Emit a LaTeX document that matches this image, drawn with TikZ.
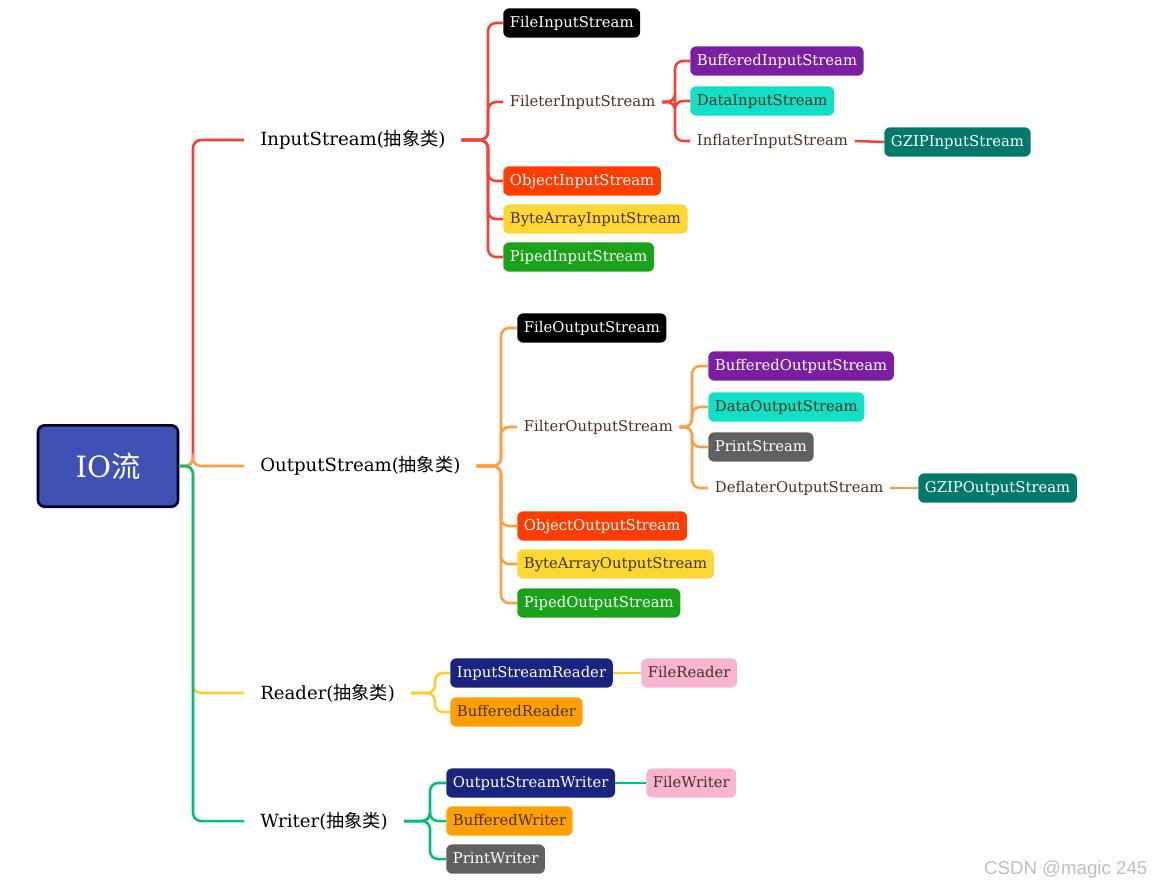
\documentclass[tikz,border=0pt]{standalone}
\usepackage{fontspec}
\setmainfont{DejaVu Serif}
\newfontfamily\cjk{Noto Sans CJK SC}
\newfontfamily\wm{Liberation Sans}
\begin{document}
\begin{tikzpicture}[x=0.75pt,y=-0.75pt,
  box/.style={anchor=west,rounded corners=4.5pt,inner xsep=5pt,minimum height=22pt,text height=8pt,text depth=1.5pt,font=\fontsize{11.1}{12}\selectfont,text=white},
  txt/.style={anchor=west,inner xsep=5pt,text height=8pt,text depth=1.5pt,font=\fontsize{11.1}{12}\selectfont,text=brn},
  lab/.style={anchor=west,inner xsep=12pt,font=\fontsize{13.6}{15}\selectfont},
  ln/.style={line width=1.9pt,rounded corners=6pt}]
\definecolor{rd}{HTML}{F44336}\definecolor{og}{HTML}{FF9E45}\definecolor{yl}{HTML}{F5D030}\definecolor{gn}{HTML}{00BF7A}
\definecolor{brn}{HTML}{4A3020}\definecolor{croot}{HTML}{3F51B5}
\definecolor{cpur}{HTML}{7B1FA2}\definecolor{ccy}{HTML}{10E0C6}\definecolor{cteal}{HTML}{00796B}
\definecolor{cobj}{HTML}{FF3D00}\definecolor{cyel}{HTML}{FDD835}\definecolor{cgrn}{HTML}{1AA21A}
\definecolor{cgry}{HTML}{616161}\definecolor{cnav}{HTML}{1A237E}\definecolor{cpink}{HTML}{F8B4D0}\definecolor{corg}{HTML}{FFA000}
\useasboundingbox (0,0) rectangle (1156,890);
\node[draw=black!85!blue,line width=2pt,fill=croot,rounded corners=5pt,minimum width=105pt,minimum height=61pt,text=white,font=\fontsize{22}{24}\selectfont] (io) at (108,466) {IO{\cjk 流}};
% level 1
\node[lab] (is) at (244,140) {InputStream({\cjk 抽象类})};
\node[lab] (os) at (244,466) {OutputStream({\cjk 抽象类})};
\node[lab] (rd) at (244,693) {Reader({\cjk 抽象类})};
\node[lab] (wr) at (244,821) {Writer({\cjk 抽象类})};
\foreach \n/\c in {is/rd,os/og,rd/yl,wr/gn}{\draw[ln,\c] (io.east) -- (193,466) |- (\n.west);}
% InputStream
\node[box,fill=black] (fis) at (503,23) {FileInputStream};
\node[txt] (fil) at (503,102) {FileterInputStream};
\node[box,fill=cobj] (ois) at (503,181) {ObjectInputStream};
\node[box,fill=cyel,text=brn] (bais) at (503,219) {ByteArrayInputStream};
\node[box,fill=cgrn] (pis) at (503,257) {PipedInputStream};
\foreach \n in {fis,fil,ois,bais,pis}{\draw[ln,rd] (is.east) -- (488,140) |- (\n.west);}
\node[box,fill=cpur] (bis) at (690,61) {BufferedInputStream};
\node[box,fill=ccy,text=brn] (dis) at (690,101) {DataInputStream};
\node[txt] (inf) at (690,141) {InflaterInputStream};
\foreach \n in {bis,dis,inf}{\draw[ln,rd] (fil.east) -- (675,102) |- (\n.west);}
\node[box,fill=cteal] (gis) at (884,142) {GZIPInputStream};
\draw[ln,rd] (inf.east) -- (gis.west);
% OutputStream
\node[box,fill=black] (fos) at (517,328) {FileOutputStream};
\node[txt] (flo) at (517,427) {FilterOutputStream};
\node[box,fill=cobj] (oos) at (517,526) {ObjectOutputStream};
\node[box,fill=cyel,text=brn] (baos) at (517,564) {ByteArrayOutputStream};
\node[box,fill=cgrn] (pos) at (517,603) {PipedOutputStream};
\foreach \n in {fos,flo,oos,baos,pos}{\draw[ln,og] (os.east) -- (501,466) |- (\n.west);}
\node[box,fill=cpur] (bos) at (708,366) {BufferedOutputStream};
\node[box,fill=ccy,text=brn] (dos) at (708,407) {DataOutputStream};
\node[box,fill=cgry] (ps) at (708,447) {PrintStream};
\node[txt] (def) at (708,488) {DeflaterOutputStream};
\foreach \n in {bos,dos,ps,def}{\draw[ln,og] (flo.east) -- (692,427) |- (\n.west);}
\node[box,fill=cteal] (gos) at (918,488) {GZIPOutputStream};
\draw[ln,og] (def.east) -- (gos.west);
% Reader
\node[box,fill=cnav] (isr) at (450,673) {InputStreamReader};
\node[box,fill=corg,text=brn] (br) at (450,712) {BufferedReader};
\foreach \n in {isr,br}{\draw[ln,yl] (rd.east) -- (435,693) |- (\n.west);}
\node[box,fill=cpink,text=brn] (fr) at (641,673) {FileReader};
\draw[ln,yl] (isr.east) -- (fr.west);
% Writer
\node[box,fill=cnav] (osw) at (446,783) {OutputStreamWriter};
\node[box,fill=corg,text=brn] (bw) at (446,821) {BufferedWriter};
\node[box,fill=cgry] (pw) at (446,859) {PrintWriter};
\foreach \n in {osw,bw,pw}{\draw[ln,gn] (wr.east) -- (430,821) |- (\n.west);}
\node[box,fill=cpink,text=brn] (fw) at (646,783) {FileWriter};
\draw[ln,gn] (osw.east) -- (fw.west);
\node[anchor=east,text=black!25,font=\wm\fontsize{14}{16}\selectfont] (wmk) at (1152,870) {CSDN @magic 245};
\end{tikzpicture}
\end{document}
